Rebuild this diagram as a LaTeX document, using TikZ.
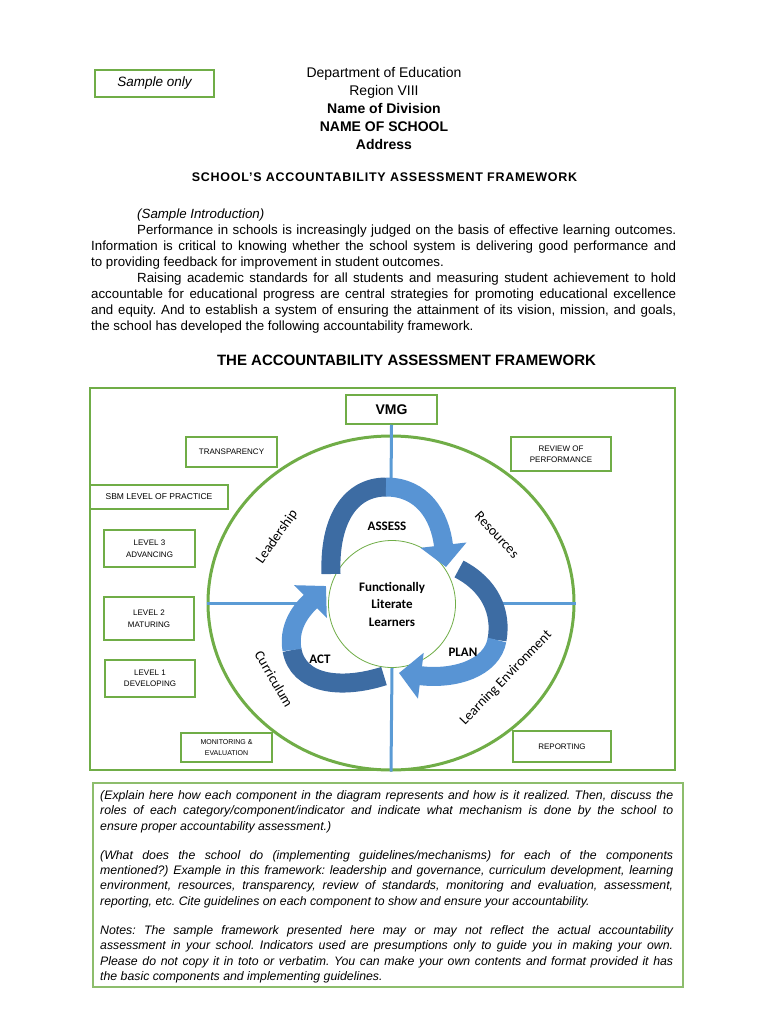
\documentclass[tikz,border=0pt]{standalone}
\usepackage{fontspec}
\setmainfont{Liberation Sans}
\newfontfamily\calibri{Carlito}
\newfontfamily\spacedcaps[LetterSpace=6]{Liberation Sans}
\usepackage{tikz}
\usetikzlibrary{arrows.meta,shapes.geometric}
\definecolor{framegreen}{RGB}{112,173,71}
\definecolor{spokeblue}{RGB}{91,155,213}
\definecolor{arrowdark}{RGB}{61,108,163}
\definecolor{arrowlight}{RGB}{88,148,212}
\frenchspacing

\begin{document}
\begin{tikzpicture}[x=1pt, y=-1pt,
    greenbox/.style={draw=framegreen, line width=1.5pt, inner sep=0pt, align=center, font=\fontsize{8}{11.5}\selectfont},
    spoke/.style={draw=spokeblue, line width=3pt},
    cyclepart/.style={line width=19pt},
    cyclehead/.style={-{Triangle[width=45pt,length=22pt]}},
    ringlabel/.style={font=\calibri\fontsize{14}{16}\selectfont},
    steplabel/.style={font=\calibri\bfseries\fontsize{13}{16}\selectfont}]
  \useasboundingbox (0,0) rectangle (768,1024);

  % letterhead
  \node[draw=framegreen, line width=1.2pt, minimum width=119pt, minimum height=27pt, font=\itshape\fontsize{13.5}{16}\selectfont] (sample) at (154.5,83.5) {Sample only};
  \node[anchor=north, align=center, font=\fontsize{14}{18}\selectfont] (office) at (384,61) {\strut Department of Education\\Region VIII\\\textbf{Name of Division}\\\textbf{NAME OF SCHOOL}\\\textbf{Address}};
  \node[font=\spacedcaps\bfseries\fontsize{12.5}{15}\selectfont] (title) at (384.5,177) {SCHOOL’S ACCOUNTABILITY ASSESSMENT FRAMEWORK};

  % introduction
  \node[anchor=north west, inner sep=0pt, text width=585pt, align=justify, font=\fontsize{13.3}{16}\selectfont] (intro) at (91,206.8) {\setlength{\parindent}{0pt}%
    \hspace*{46pt}\strut\textit{(Sample Introduction)}\par
    \hspace*{46pt}Performance in schools is increasingly judged on the basis of effective learning outcomes.\linebreak
    Information is critical to knowing whether the school system is delivering good performance and\linebreak
    to providing feedback for improvement in student outcomes.\par
    \hspace*{46pt}Raising academic standards for all students and measuring student achievement to hold\linebreak
    accountable for educational progress are central strategies for promoting educational excellence\linebreak
    and equity. And to establish a system of ensuring the attainment of its vision, mission, and goals,\linebreak
    the school has developed the following accountability framework.};
  \node[font=\bfseries\fontsize{15}{18}\selectfont] (heading) at (406.5,360) {THE ACCOUNTABILITY ASSESSMENT FRAMEWORK};

  % framework
  \node[draw=framegreen, line width=1.5pt, minimum width=585pt, minimum height=382pt, inner sep=0pt] (frame) at (382.5,579) {};
  \node[ellipse, draw=framegreen, line width=3pt, minimum width=366pt, minimum height=334pt, inner sep=0pt] (ring) at (391,603) {};

  \node[greenbox, minimum width=91pt, minimum height=29pt, font=\bfseries\fontsize{14}{16}\selectfont] (vmg) at (391.5,409.5) {VMG};
  \node[greenbox, minimum width=91pt, minimum height=30pt] (transparency) at (231.5,452) {TRANSPARENCY};
  \node[greenbox, minimum width=100pt, minimum height=34pt] (review) at (561,454) {REVIEW OF\\PERFORMANCE};
  \node[greenbox, minimum width=138pt, minimum height=24pt, font=\fontsize{8.5}{11}\selectfont] (sbm) at (159,497) {SBM LEVEL OF PRACTICE};
  \node[greenbox, minimum width=91pt, minimum height=37pt] (level3) at (149.5,548.5) {LEVEL 3\\ADVANCING};
  \node[greenbox, minimum width=90pt, minimum height=43pt] (level2) at (149,618.5) {LEVEL 2\\MATURING};
  \node[greenbox, minimum width=90pt, minimum height=37pt] (level1) at (150,678.5) {LEVEL 1\\DEVELOPING};
  \node[greenbox, minimum width=91pt, minimum height=29pt, font=\fontsize{7}{11}\selectfont] (monitoring) at (226.5,747.5) {MONITORING \&\\EVALUATION};
  \node[greenbox, minimum width=98pt, minimum height=31pt] (reporting) at (562,746.5) {REPORTING};

  \coordinate (vmgfoot) at (391,490);
  \coordinate (leftfoot) at (300,603);
  \coordinate (rightfoot) at (484,603);
  \draw[spoke] (vmg.south) -- (vmgfoot);
  \draw[spoke] (ring.west) -- (leftfoot);
  \draw[spoke] (rightfoot) -- (ring.east);

  \node[circle, draw=framegreen, line width=0.8pt, fill=white, minimum size=127pt, inner sep=0pt, align=center, font=\calibri\bfseries\fontsize{13}{17.5}\selectfont] (core) at (392,604) {Functionally\\Literate\\Learners};
  \draw[spoke] (core.south) -- (ring.south);

  % assess - plan - act cycle
  \coordinate (assesstail) at (331,574);
  \coordinate (assesstop) at (386,487);
  \coordinate (assesstip) at (446,567);
  \draw[arrowdark, cyclepart] (assesstail) .. controls (329,520) and (350,487) .. (assesstop);
  \draw[arrowlight, cyclepart, cyclehead] (assesstop) .. controls (422,487) and (440,515) .. (assesstip);

  \coordinate (plantail) at (459,569);
  \coordinate (planside) at (497,640);
  \coordinate (plantip) at (399,673);
  \draw[arrowdark, cyclepart] (plantail) .. controls (490,585) and (502,612) .. (planside);
  \draw[arrowlight, cyclepart, cyclehead] (planside) .. controls (492,668) and (455,680) .. (plantip);

  \coordinate (acttail) at (384,676);
  \coordinate (actside) at (292,650);
  \coordinate (acttip) at (326,586);
  \draw[arrowdark, cyclepart] (acttail) .. controls (340,690) and (298,684) .. (actside);
  \draw[arrowlight, cyclepart, cyclehead] (actside) .. controls (287,622) and (308,604) .. (acttip);

  \node[steplabel] (assess) at (387,526) {ASSESS};
  \node[steplabel] (plan) at (463,652) {PLAN};
  \node[steplabel] (act) at (320,659) {ACT};

  \node[ringlabel, rotate=55] (leadership) at (277,537) {Leadership};
  \node[ringlabel, rotate=-47] (resources) at (497,535) {Resources};
  \node[ringlabel, rotate=-60] (curriculum) at (274,679) {Curriculum};
  \node[ringlabel, rotate=46] (environment) at (506,678) {Learning Environment};

  % explanation
  \node[draw=framegreen!80, line width=1.5pt, minimum width=590pt, minimum height=204pt, inner sep=0pt] (notes) at (388,885) {};
  \node[anchor=north west, inner sep=0pt, text width=573pt, align=justify, font=\itshape\fontsize{12.3}{15.3}\selectfont] (notetext) at (100,788.5) {\setlength{\parindent}{0pt}\setlength{\parskip}{14pt}%
    \strut(Explain here how each component in the diagram represents and how is it realized. Then, discuss the\linebreak
    roles of each category/component/indicator and indicate what mechanism is done by the school to\linebreak
    ensure proper accountability assessment.)\par
    (What does the school do (implementing guidelines/mechanisms) for each of the components\linebreak
    mentioned?) Example in this framework: leadership and governance, curriculum development, learning\linebreak
    environment, resources, transparency, review of standards, monitoring and evaluation, assessment,\linebreak
    reporting, etc. Cite guidelines on each component to show and ensure your accountability.\par
    Notes: The sample framework presented here may or may not reflect the actual accountability\linebreak
    assessment in your school. Indicators used are presumptions only to guide you in making your own.\linebreak
    Please do not copy it in toto or verbatim. You can make your own contents and format provided it has\linebreak
    the basic components and implementing guidelines.};
\end{tikzpicture}
\end{document}
